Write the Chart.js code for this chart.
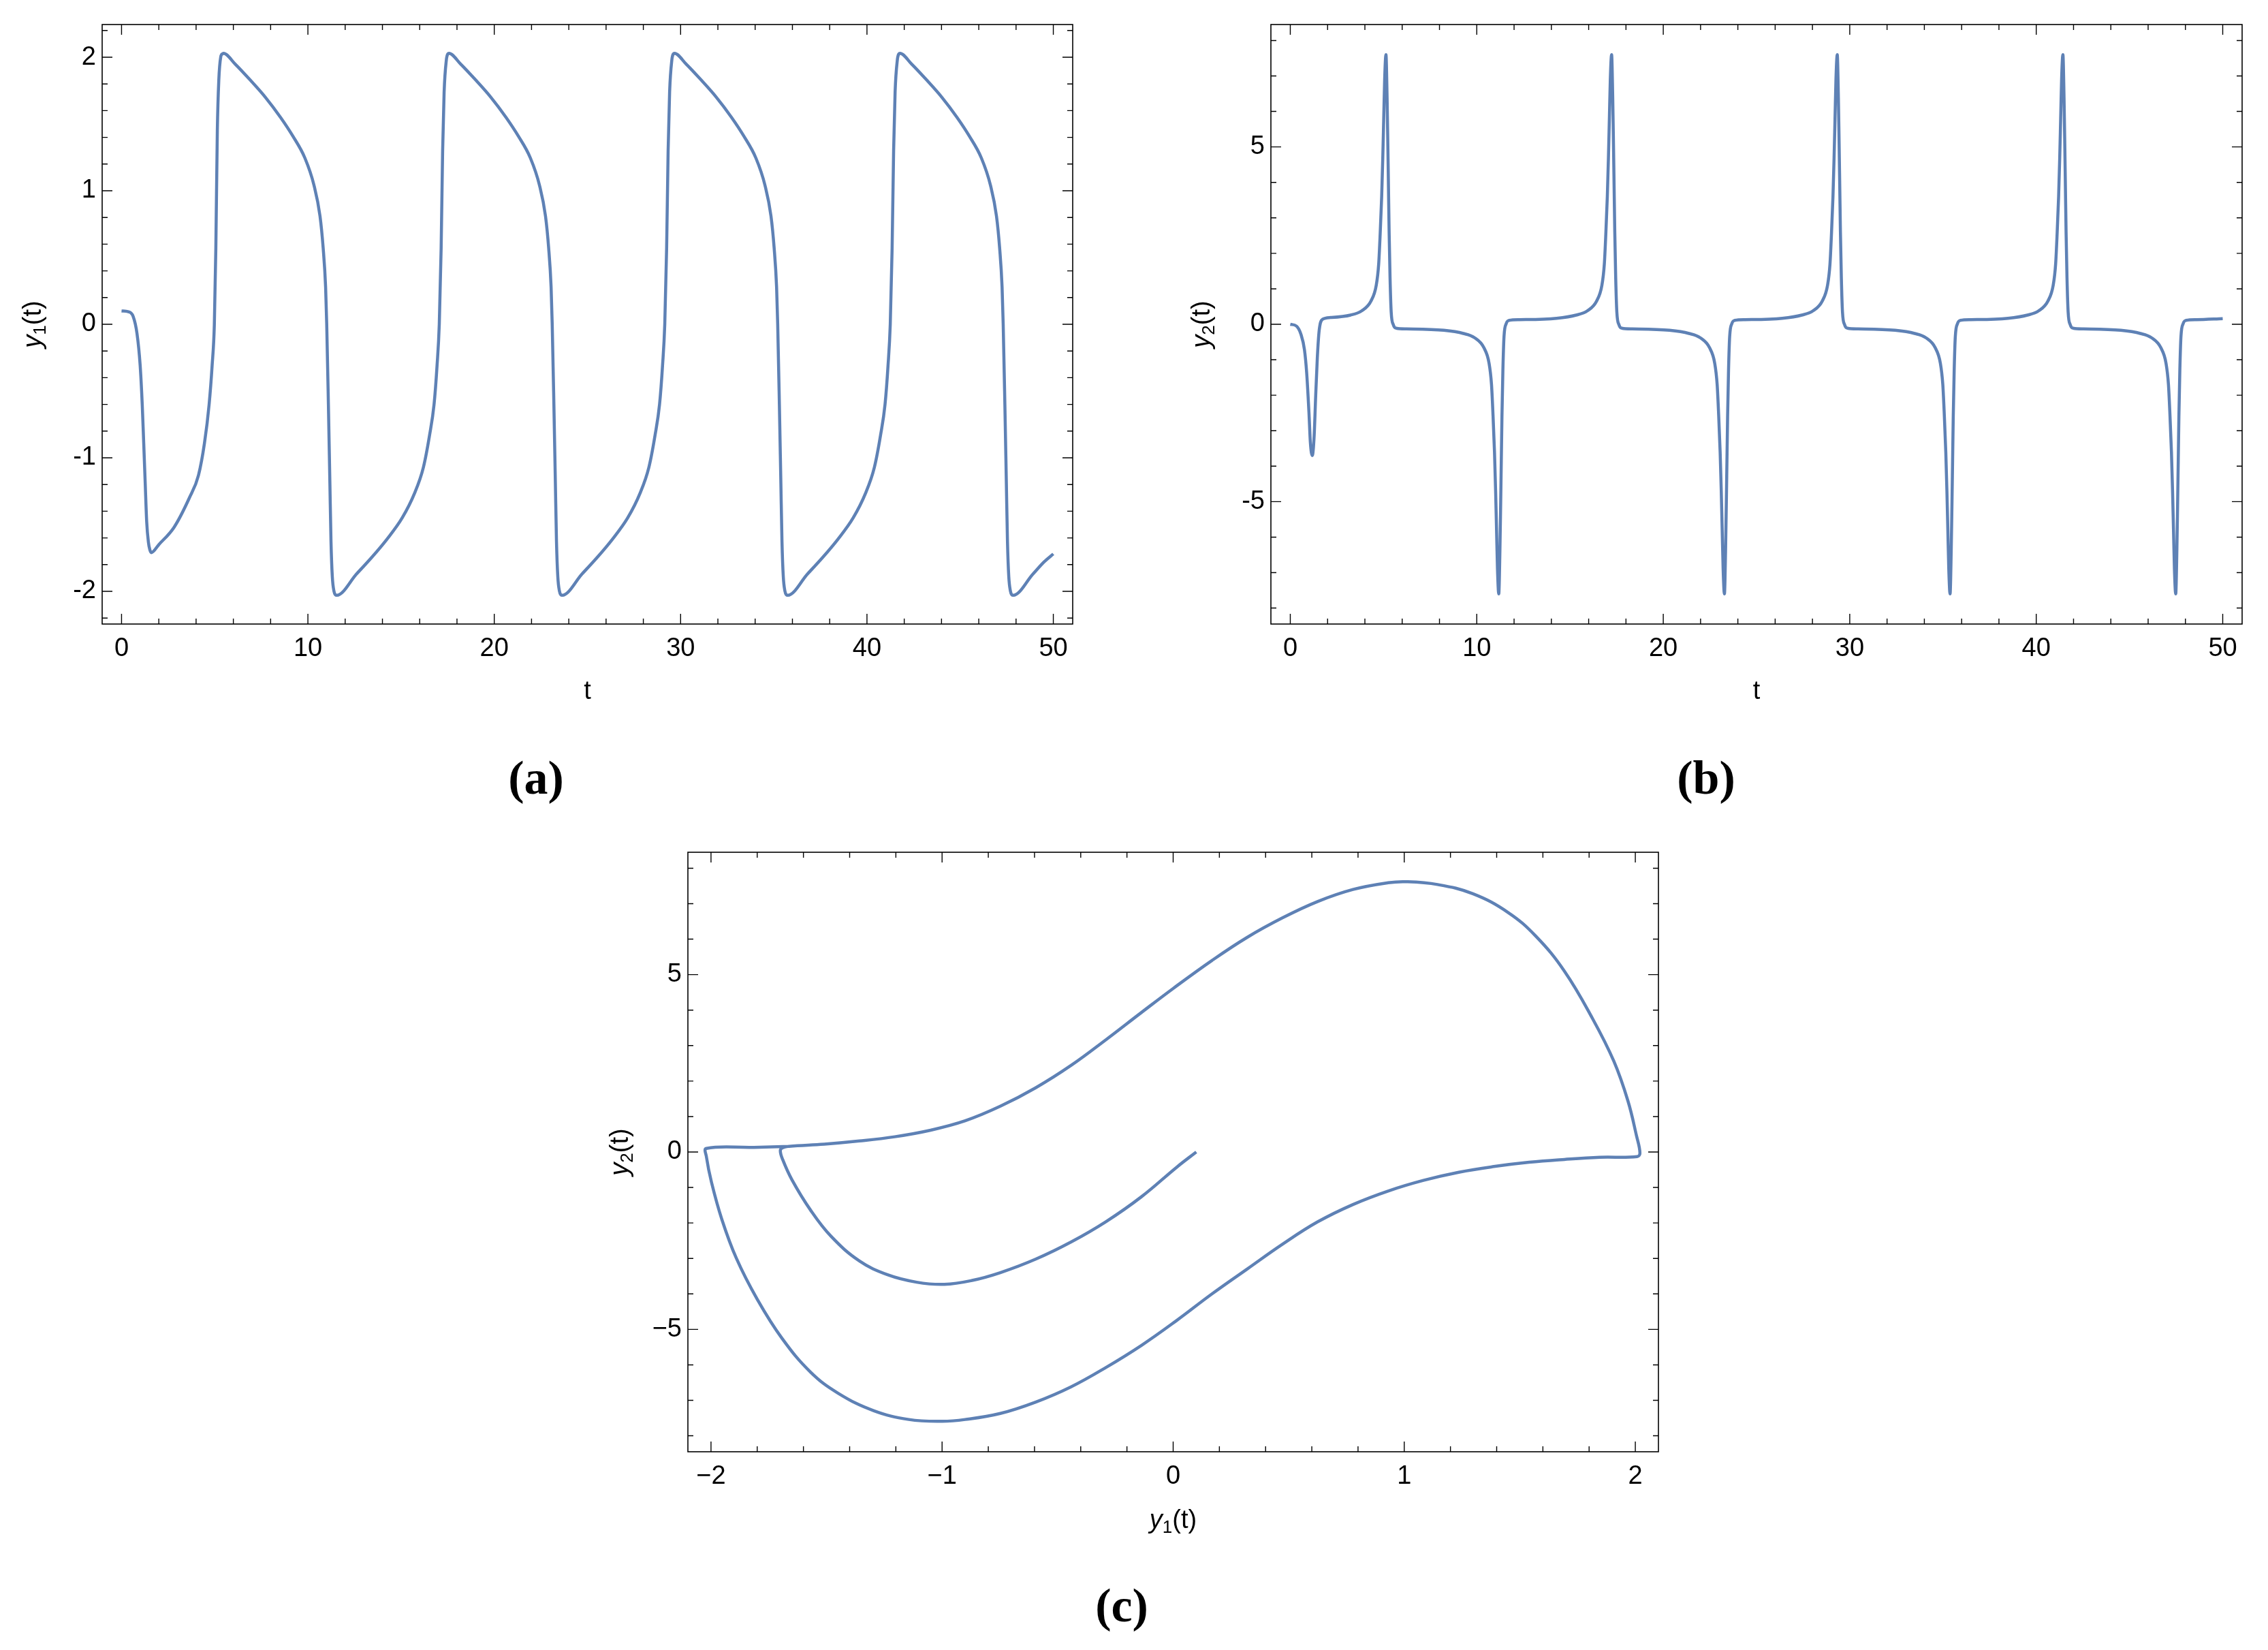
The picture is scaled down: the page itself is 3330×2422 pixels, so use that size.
<!DOCTYPE html>
<html>
<head>
<meta charset="utf-8">
<script src="https://cdn.jsdelivr.net/npm/chart.js@4.4.1/dist/chart.umd.min.js"></script>
<style>
body { margin: 0; background: #fff; width: 3330px; height: 2422px; position: relative; overflow: hidden; }
.panel { position: absolute; }
.cap { position: absolute; font-family: "Liberation Serif", "DejaVu Serif", serif; font-weight: bold; font-size: 70px; line-height: 1; transform: translate(-50%, -50%); white-space: nowrap; }
</style>
</head>
<body>
<div class="panel" style="left:0px;top:0px"><canvas id="chartA" width="1660" height="1060"></canvas></div>
<div class="panel" style="left:1660px;top:0px"><canvas id="chartB" width="1670" height="1060"></canvas></div>
<div class="panel" style="left:850px;top:1200px"><canvas id="chartC" width="1700" height="1060"></canvas></div>
<div class="cap" style="left:787px;top:1142px">(a)</div>
<div class="cap" style="left:2505px;top:1142px">(b)</div>
<div class="cap" style="left:1647px;top:2357px">(c)</div>
<script>
// values

// (a) y1(t)
const tA = [0, 0.37, 0.62, 0.83, 1.0, 1.11, 1.19, 1.27, 1.35, 1.44, 1.52, 1.6, 2.0, 2.82, 3.64, 4.13, 4.45, 4.7, 4.86, 4.98, 5.06, 5.14, 5.22, 5.32, 5.41, 5.47,
  6.09, 6.9, 7.72, 8.53, 9.19, 9.84, 10.33, 10.65, 10.82, 10.95, 11.01, 11.1, 11.18, 11.24, 11.31, 11.4, 11.47, 11.55,
  12.61, 13.43, 14.24, 15.06, 15.71, 16.2, 16.53, 16.77, 16.93, 17.05, 17.15, 17.23, 17.31, 17.43, 17.51, 17.57,
  18.19, 19.0, 19.82, 20.63, 21.29, 21.94, 22.43, 22.75, 22.92, 23.05, 23.11, 23.2, 23.28, 23.34, 23.41, 23.5, 23.57, 23.65,
  24.71, 25.53, 26.34, 27.16, 27.81, 28.3, 28.63, 28.87, 29.03, 29.15, 29.25, 29.33, 29.41, 29.53, 29.61, 29.67,
  30.29, 31.1, 31.92, 32.73, 33.39, 34.04, 34.53, 34.85, 35.02, 35.15, 35.21, 35.3, 35.38, 35.44, 35.51, 35.6, 35.67, 35.75,
  36.81, 37.63, 38.44, 39.26, 39.91, 40.4, 40.73, 40.97, 41.13, 41.25, 41.35, 41.43, 41.51, 41.63, 41.71, 41.77,
  42.39, 43.2, 44.02, 44.83, 45.49, 46.14, 46.63, 46.95, 47.12, 47.25, 47.31, 47.4, 47.48, 47.54, 47.61, 47.7, 47.77, 47.85,
  48.91, 49.5, 50.0];
const y1A = [0.1, 0.094, 0.06, -0.07, -0.31, -0.6, -0.89, -1.19, -1.48, -1.63, -1.69, -1.71, -1.65, -1.52, -1.3, -1.13, -0.89, -0.6, -0.31, 0, 0.57, 1.45, 1.83, 2.0, 2.025, 2.03,
  1.95, 1.83, 1.7, 1.55, 1.41, 1.245, 1.04, 0.81, 0.57, 0.28, 0, -0.6, -1.19, -1.63, -1.89, -2.0, -2.025, -2.03,
  -1.87, -1.745, -1.61, -1.45, -1.27, -1.07, -0.83, -0.6, -0.31, 0, 0.57, 1.3, 1.74, 1.98, 2.025, 2.03,
  1.95, 1.83, 1.7, 1.55, 1.41, 1.245, 1.04, 0.81, 0.57, 0.28, 0, -0.6, -1.19, -1.63, -1.89, -2.0, -2.025, -2.03,
  -1.87, -1.745, -1.61, -1.45, -1.27, -1.07, -0.83, -0.6, -0.31, 0, 0.57, 1.3, 1.74, 1.98, 2.025, 2.03,
  1.95, 1.83, 1.7, 1.55, 1.41, 1.245, 1.04, 0.81, 0.57, 0.28, 0, -0.6, -1.19, -1.63, -1.89, -2.0, -2.025, -2.03,
  -1.87, -1.745, -1.61, -1.45, -1.27, -1.07, -0.83, -0.6, -0.31, 0, 0.57, 1.3, 1.74, 1.98, 2.025, 2.03,
  1.95, 1.83, 1.7, 1.55, 1.41, 1.245, 1.04, 0.81, 0.57, 0.28, 0, -0.6, -1.19, -1.63, -1.89, -2.0, -2.025, -2.03,
  -1.87, -1.78, -1.72];

// (b) y2(t)
const tB = [0, 0.33, 0.57, 0.76, 0.88, 1.0, 1.08, 1.18, 1.28, 1.36, 1.45, 1.55, 1.73, 2.16, 3.23, 3.83, 4.33, 4.61, 4.74, 4.82, 4.9, 4.96, 5.01, 5.06,
  5.13, 5.19, 5.23, 5.265, 5.3, 5.35, 5.41, 5.53, 5.68, 6.23, 8.23, 9.28, 9.88, 10.38, 10.66, 10.79, 10.87, 10.95, 11.01, 11.06, 11.11,
  11.18, 11.24, 11.28, 11.315, 11.35, 11.4, 11.46, 11.58, 11.73, 12.28, 14.28, 15.33, 15.93, 16.43, 16.71, 16.84, 16.92, 17.0, 17.06, 17.11, 17.16,
  17.23, 17.29, 17.33, 17.365, 17.4, 17.45, 17.51, 17.63, 17.78, 18.33, 20.33, 21.38, 21.98, 22.48, 22.76, 22.89, 22.97, 23.05, 23.11, 23.16, 23.21,
  23.28, 23.34, 23.38, 23.415, 23.45, 23.5, 23.56, 23.68, 23.83, 24.38, 26.38, 27.43, 28.03, 28.53, 28.81, 28.94, 29.02, 29.1, 29.16, 29.21, 29.26,
  29.33, 29.39, 29.43, 29.465, 29.5, 29.55, 29.61, 29.73, 29.88, 30.43, 32.43, 33.48, 34.08, 34.58, 34.86, 34.99, 35.07, 35.15, 35.21, 35.26, 35.31,
  35.38, 35.44, 35.48, 35.515, 35.55, 35.6, 35.66, 35.78, 35.93, 36.48, 38.48, 39.53, 40.13, 40.63, 40.91, 41.04, 41.12, 41.2, 41.26, 41.31, 41.36,
  41.43, 41.49, 41.53, 41.565, 41.6, 41.65, 41.71, 41.83, 41.98, 42.53, 44.53, 45.58, 46.18, 46.68, 46.96, 47.09, 47.17, 47.25, 47.31, 47.36, 47.41,
  47.48, 47.54, 47.58, 47.615, 47.65, 47.7, 47.76, 47.88, 48.03, 48.58, 50.0];
const y2B = [0, -0.05, -0.28, -0.72, -1.38, -2.48, -3.36, -3.7, -3.14, -2.04, -0.94, -0.17, 0.14, 0.19, 0.26, 0.38, 0.66, 1.1, 1.7, 2.55, 3.6, 4.7, 5.8, 6.9,
  7.6, 6.4, 5.1, 3.85, 2.6, 1.3, 0.35, -0.02, -0.11, -0.13, -0.17, -0.26, -0.38, -0.66, -1.1, -1.7, -2.55, -3.6, -4.7, -5.8, -6.9,
  -7.6, -6.4, -5.1, -3.85, -2.6, -1.3, -0.35, 0.02, 0.11, 0.13, 0.17, 0.26, 0.38, 0.66, 1.1, 1.7, 2.55, 3.6, 4.7, 5.8, 6.9,
  7.6, 6.4, 5.1, 3.85, 2.6, 1.3, 0.35, -0.02, -0.11, -0.13, -0.17, -0.26, -0.38, -0.66, -1.1, -1.7, -2.55, -3.6, -4.7, -5.8, -6.9,
  -7.6, -6.4, -5.1, -3.85, -2.6, -1.3, -0.35, 0.02, 0.11, 0.13, 0.17, 0.26, 0.38, 0.66, 1.1, 1.7, 2.55, 3.6, 4.7, 5.8, 6.9,
  7.6, 6.4, 5.1, 3.85, 2.6, 1.3, 0.35, -0.02, -0.11, -0.13, -0.17, -0.26, -0.38, -0.66, -1.1, -1.7, -2.55, -3.6, -4.7, -5.8, -6.9,
  -7.6, -6.4, -5.1, -3.85, -2.6, -1.3, -0.35, 0.02, 0.11, 0.13, 0.17, 0.26, 0.38, 0.66, 1.1, 1.7, 2.55, 3.6, 4.7, 5.8, 6.9,
  7.6, 6.4, 5.1, 3.85, 2.6, 1.3, 0.35, -0.02, -0.11, -0.13, -0.17, -0.26, -0.38, -0.66, -1.1, -1.7, -2.55, -3.6, -4.7, -5.8, -6.9,
  -7.6, -6.4, -5.1, -3.85, -2.6, -1.3, -0.35, 0.02, 0.11, 0.13, 0.16];

// (c) phase portrait, path in drawing order
const phaseY1 = [0.1, 0.015, -0.137, -0.29, -0.44, -0.595, -0.748, -0.87, -0.99, -1.11, -1.236, -1.358, -1.48, -1.57, -1.65, -1.69, -1.7, -1.69,
  -1.663, -1.51, -1.358, -1.205, -1.053, -0.9, -0.748, -0.595, -0.442, -0.29, -0.137, 0, 0.168, 0.32, 0.473, 0.625, 0.778, 0.93, 1.007, 1.144, 1.297, 1.45, 1.57, 1.693, 1.815, 1.907, 1.968, 2.005, 2.02, 2.008,
  1.846, 1.693, 1.54, 1.388, 1.236, 1.083, 0.93, 0.778, 0.625, 0.473, 0.32, 0.168, 0.015, -0.137, -0.29, -0.442, -0.595, -0.748, -0.9, -1.0, -1.144, -1.297, -1.45, -1.57, -1.693, -1.8, -1.89, -1.953, -1.998, -2.02, -2.02,
  -1.815, -1.663];
const phaseY2 = [0, -0.43, -1.26, -1.96, -2.53, -3.02, -3.4, -3.62, -3.73, -3.67, -3.46, -3.07, -2.38, -1.63, -0.78, -0.21, 0.04, 0.12,
  0.16, 0.22, 0.31, 0.43, 0.61, 0.88, 1.29, 1.81, 2.44, 3.17, 3.935, 4.61, 5.4, 6.05, 6.6, 7.06, 7.4, 7.59, 7.62, 7.54, 7.28, 6.75, 6.08, 5.1, 3.76, 2.56, 1.44, 0.46, -0.03, -0.13,
  -0.15, -0.21, -0.29, -0.41, -0.57, -0.8, -1.1, -1.48, -1.97, -2.6, -3.3, -4.0, -4.75, -5.45, -6.07, -6.62, -7.05, -7.37, -7.54, -7.59, -7.54, -7.29, -6.8, -6.2, -5.25, -4.15, -3.0, -1.9, -0.85, -0.13, 0.1,
  0.13, 0.16];

// ticks
const tMajor = [0, 10, 20, 30, 40, 50];
const tMinor = [2, 4, 6, 8, 12, 14, 16, 18, 22, 24, 26, 28, 32, 34, 36, 38, 42, 44, 46, 48];
const y1Major = [-2, -1, 0, 1, 2];
const y1Minor = [-2.2, -1.8, -1.6, -1.4, -1.2, -0.8, -0.6, -0.4, -0.2, 0.2, 0.4, 0.6, 0.8, 1.2, 1.4, 1.6, 1.8, 2.2];
const y2Major = [-5, 0, 5];
const y2Minor = [-8, -7, -6, -4, -3, -2, -1, 1, 2, 3, 4, 6, 7, 8];
const phaseXMajor = [-2, -1, 0, 1, 2];
const phaseXMinor = [-1.8, -1.6, -1.4, -1.2, -0.8, -0.6, -0.4, -0.2, 0.2, 0.4, 0.6, 0.8, 1.2, 1.4, 1.6, 1.8];

const lineColor = '#5e81b5';
const sans = '"Liberation Sans", Arial, sans-serif';

function pairs(xs, ys) {
  let out = [];
  for (let i = 0; i < xs.length; i++) {
    out.push({ x: xs[i], y: ys[i] });
  }
  return out;
}

// draws text like y1(t) with italic y and a subscript
function drawRich(ctx, parts, cx, cy, rotate) {
  ctx.save();
  ctx.translate(cx, cy);
  if (rotate) ctx.rotate(-Math.PI / 2);
  ctx.fillStyle = '#000';
  ctx.textBaseline = 'alphabetic';
  let total = 0;
  parts.forEach(p => {
    ctx.font = (p.italic ? 'italic ' : '') + p.size + 'px ' + sans;
    p.w = ctx.measureText(p.text).width;
    total += p.w;
  });
  let x = -total / 2;
  parts.forEach(p => {
    ctx.font = (p.italic ? 'italic ' : '') + p.size + 'px ' + sans;
    ctx.fillText(p.text, x, 13 + (p.dy || 0));
    x += p.w;
  });
  ctx.restore();
}

function yLabel(n) {
  return [{ text: 'y', italic: true, size: 38 }, { text: n, size: 26, dy: 7 }, { text: '(t)', size: 38 }];
}

// mathematica style frame with inward ticks on all four sides
const framePlugin = {
  id: 'frame',
  afterDraw(chart, args, opts) {
    const ctx = chart.ctx;
    const a = chart.chartArea;
    const xs = chart.scales.x, ys = chart.scales.y;
    ctx.save();
    ctx.strokeStyle = '#000';
    ctx.lineWidth = 1.6;
    ctx.strokeRect(a.left, a.top, a.right - a.left, a.bottom - a.top);
    ctx.lineWidth = 1.4;
    ctx.beginPath();
    const xmark = (vals, len) => vals.forEach(v => {
      const px = xs.getPixelForValue(v);
      ctx.moveTo(px, a.bottom); ctx.lineTo(px, a.bottom - len);
      ctx.moveTo(px, a.top); ctx.lineTo(px, a.top + len);
    });
    const ymark = (vals, len) => vals.forEach(v => {
      const py = ys.getPixelForValue(v);
      ctx.moveTo(a.left, py); ctx.lineTo(a.left + len, py);
      ctx.moveTo(a.right, py); ctx.lineTo(a.right - len, py);
    });
    xmark(opts.xMajor, 15);
    xmark(opts.xMinor, 8);
    ymark(opts.yMajor, 15);
    ymark(opts.yMinor, 8);
    ctx.stroke();
    ctx.restore();
    drawRich(ctx, opts.xTitle, (a.left + a.right) / 2, a.bottom + opts.xTitleGap, false);
    drawRich(ctx, opts.yTitle, a.left - opts.yTitleGap, (a.top + a.bottom) / 2, true);
  }
};

function makeChart(id, pts, cfg) {
  return new Chart(document.getElementById(id), {
    type: 'scatter',
    data: {
      datasets: [{
        data: pts,
        showLine: true,
        borderColor: lineColor,
        borderWidth: 4.5,
        borderJoinStyle: 'round',
        pointRadius: 0,
        tension: cfg.tension,
        cubicInterpolationMode: cfg.monotone ? 'monotone' : 'default',
        fill: false
      }]
    },
    options: {
      responsive: false,
      animation: false,
      events: [],
      layout: { padding: cfg.padding },
      plugins: {
        legend: { display: false },
        tooltip: { enabled: false },
        frame: cfg.frame
      },
      scales: {
        x: {
          type: 'linear',
          min: cfg.xMin, max: cfg.xMax,
          grid: { display: false, drawTicks: false },
          border: { display: false },
          afterBuildTicks: s => { s.ticks = cfg.frame.xMajor.map(v => ({ value: v })); },
          afterFit: s => { s.height = cfg.xHeight; },
          ticks: { color: '#000', padding: 14, maxRotation: 0, autoSkip: false, font: { family: sans, size: 38 }, callback: cfg.xFmt }
        },
        y: {
          type: 'linear',
          min: cfg.yMin, max: cfg.yMax,
          grid: { display: false, drawTicks: false },
          border: { display: false },
          afterBuildTicks: s => { s.ticks = cfg.frame.yMajor.map(v => ({ value: v })); },
          afterFit: s => { s.width = cfg.yWidth; },
          ticks: { color: '#000', padding: 9, autoSkip: false, font: { family: sans, size: 38 }, callback: cfg.yFmt }
        }
      }
    },
    plugins: [framePlugin]
  });
}

const plain = v => String(v);
const minus = v => String(v).replace('-', '\u2212');

// (a)
makeChart('chartA', pairs(tA, y1A), {
  padding: { left: 0, top: 36, right: 85, bottom: 0 },
  xMin: -1.04, xMax: 51.04, yMin: -2.245, yMax: 2.245,
  xHeight: 144, yWidth: 150, xFmt: plain, yFmt: plain,
  tension: 0.4, monotone: true,
  frame: { xMajor: tMajor, xMinor: tMinor, yMajor: y1Major, yMinor: y1Minor,
    xTitle: [{ text: 't', size: 38 }], xTitleGap: 97, yTitle: yLabel('1'), yTitleGap: 103 }
});

// (b)
makeChart('chartB', pairs(tB, y2B), {
  padding: { left: 0, top: 36, right: 38, bottom: 0 },
  xMin: -1.04, xMax: 51.04, yMin: -8.45, yMax: 8.45,
  xHeight: 144, yWidth: 206, xFmt: plain, yFmt: plain,
  tension: 0.4, monotone: true,
  frame: { xMajor: tMajor, xMinor: tMinor, yMajor: y2Major, yMinor: y2Minor,
    xTitle: [{ text: 't', size: 38 }], xTitleGap: 97, yTitle: yLabel('2'), yTitleGap: 103 }
});

// (c)
makeChart('chartC', pairs(phaseY1, phaseY2), {
  padding: { left: 0, top: 51, right: 115, bottom: 0 },
  xMin: -2.1, xMax: 2.1, yMin: -8.45, yMax: 8.45,
  xHeight: 129, yWidth: 160, xFmt: minus, yFmt: minus,
  tension: 0.4, monotone: false,
  frame: { xMajor: phaseXMajor, xMinor: phaseXMinor, yMajor: y2Major, yMinor: y2Minor,
    xTitle: yLabel('1'), xTitleGap: 99, yTitle: yLabel('2'), yTitleGap: 101 }
});
</script>
</body>
</html>
